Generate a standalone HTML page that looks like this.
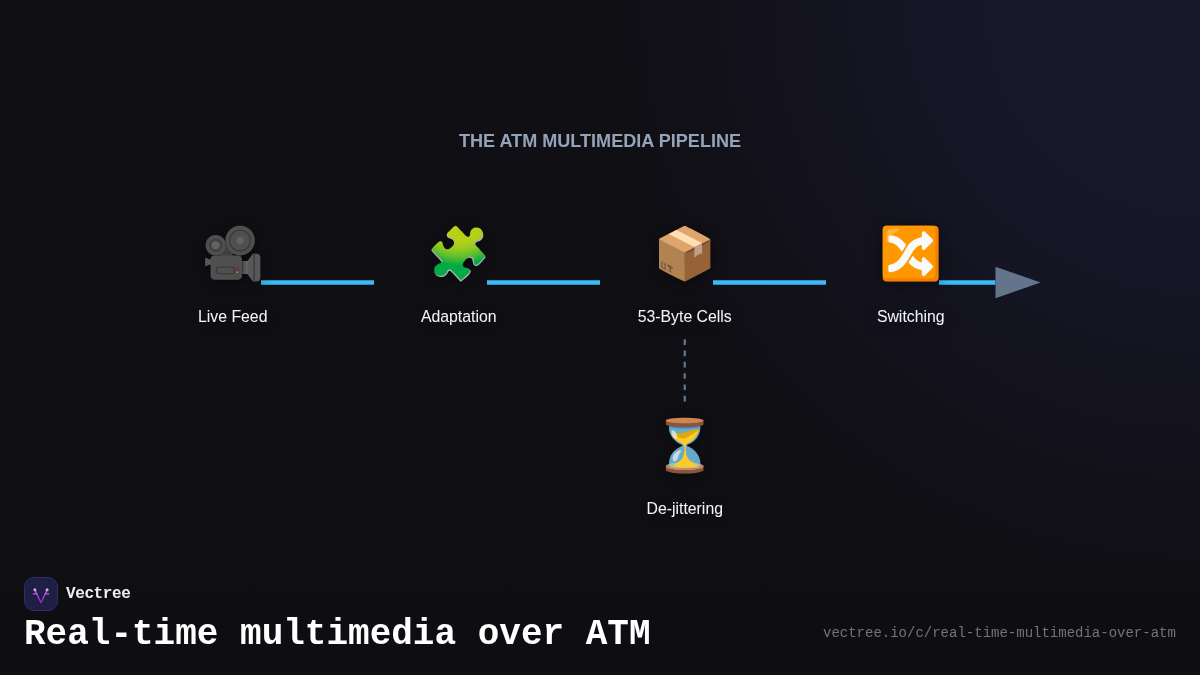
<!DOCTYPE html>
<html lang="en">
<head>
<meta charset="utf-8">
<title>Real-time multimedia over ATM</title>
<style>
  html, body { margin: 0; padding: 0; }
  body {
    width: 1200px; height: 675px; overflow: hidden; position: relative;
    background: #100f14;
    font-family: "Liberation Mono", monospace;
  }
  .bg {
    position: absolute; inset: 0;
    background:
      linear-gradient(to top, rgba(0,0,0,0.08) 0px, rgba(0,0,0,0.12) 50px, rgba(0,0,0,0) 122px),
      radial-gradient(circle 590px at 100% 0%, rgba(86,96,240,0.1) 0%, rgba(86,96,240,0.1) 33%, rgba(86,96,240,0.05) 66.5%, rgba(86,96,240,0) 100%),
      #100f14;
  }
  svg.diagram { position: absolute; left: 148px; top: 56px; width: 904px; height: 565px; overflow: visible; }
  .diagram text { font-family: "Liberation Sans", sans-serif; }
  .diagram .emoji { font-family: "Noto Color Emoji", "Noto Emoji", "DejaVu Sans", "Liberation Sans", sans-serif; font-size: 45px; text-anchor: middle; }
  .diagram .lbl { font-size: 14px; fill: #f1f5f9; text-anchor: middle; }
  .diagram .ttl { font-size: 16px; font-weight: bold; fill: #94a3b8; text-anchor: middle; }
  .brand, h1, .url, svg.diagram { will-change: transform; }
  .brand { position: absolute; left: 24px; top: 577px; height: 34px; display: flex; align-items: center; }
  .logo { box-sizing: border-box; width: 34px; height: 34px; border: 1px solid #2f2e6b; border-radius: 10px; background: #1f1e45; position: relative; }
  .logo svg { position: absolute; left: -1px; top: -1px; }
  .brand .name { margin-left: 8px; font-weight: bold; font-size: 16px; letter-spacing: -0.4px; color: #eeeef0; }
  h1 { position: absolute; left: 24px; top: 614px; margin: 0; font-size: 36px; line-height: 41px; font-weight: bold; color: #fff; white-space: nowrap; }
  .url { position: absolute; right: 24px; top: 625px; font-size: 14px; line-height: 16px; color: #737378; white-space: nowrap; }
</style>
</head>
<body>
<!-- background: dark base + indigo glow (top right) + soft footer shade -->
<div class="bg"></div>

<!-- pipeline diagram -->
<svg class="diagram" viewBox="0 0 800 500">
  <defs>
    <filter id="sh" x="-50%" y="-50%" width="200%" height="200%">
      <feDropShadow dx="0" dy="2" stdDeviation="6" flood-color="#000" flood-opacity="0.45"/>
    </filter>
  </defs>
  <text class="ttl" x="400" y="80.5">THE ATM MULTIMEDIA PIPELINE</text>
  <g stroke="#38bdf8" stroke-width="4" fill="none">
    <line x1="100" y1="200.44" x2="200" y2="200.44"/>
    <line x1="300" y1="200.44" x2="400" y2="200.44"/>
    <line x1="500" y1="200.44" x2="600" y2="200.44"/>
    <line x1="700" y1="200.44" x2="750" y2="200.44"/>
  </g>
  <polygon points="750,186.44 790,200.44 750,214.44" fill="#64748b"/>
  <line x1="475" y1="250.66" x2="475" y2="305.66" stroke="#64748b" stroke-width="2" stroke-dasharray="5 5"/>
  <g filter="url(#sh)">
    <text class="emoji" x="75" y="190.6" transform="translate(149.73 0) scale(-0.9876 1)" fill="#5c5c5c">🎥</text>
    <text class="lbl" x="75" y="235">Live Feed</text>
  </g>
  <g filter="url(#sh)">
    <text class="emoji" x="275" y="190.6" fill="#7cc520">🧩</text>
    <text class="lbl" x="275" y="235">Adaptation</text>
  </g>
  <g filter="url(#sh)">
    <text class="emoji" x="475" y="190.6" fill="#c08a50">📦</text>
    <text class="lbl" x="475" y="235">53-Byte Cells</text>
  </g>
  <g filter="url(#sh)">
    <text class="emoji" x="675" y="190.6" fill="#ff9800">🔀</text>
    <text class="lbl" x="675" y="235">Switching</text>
  </g>
  <g filter="url(#sh)">
    <text class="emoji" x="475" y="360.6" fill="#e0b040">⏳</text>
    <text class="lbl" x="475" y="405">De-jittering</text>
  </g>
</svg>

<!-- footer -->
<div class="brand">
  <div class="logo">
    <svg width="34" height="34" viewBox="0 0 34 34">
      <defs><linearGradient id="lg" gradientUnits="userSpaceOnUse" x1="0" y1="12" x2="0" y2="26"><stop offset="0" stop-color="#d28cf2"/><stop offset="0.4" stop-color="#b94ee0"/><stop offset="1" stop-color="#9226bd"/></linearGradient></defs>
      <path d="M10.9 12.9 L17 25.8 L23.1 12.9" fill="none" stroke="url(#lg)" stroke-width="1.25" stroke-linecap="round" stroke-linejoin="round"/>
      <path d="M9.3 16.85 H12.8 M21.2 16.85 H24.7" fill="none" stroke="#c25ae6" stroke-width="1.35" stroke-linecap="round"/>
      <circle cx="10.9" cy="12.7" r="1.5" fill="#d6a4ef"/>
      <circle cx="23.1" cy="12.7" r="1.5" fill="#d6a4ef"/>
    </svg>
  </div>
  <span class="name">Vectree</span>
</div>
<h1>Real-time multimedia over ATM</h1>
<div class="url">vectree.io/c/real-time-multimedia-over-atm</div>
</body>
</html>
